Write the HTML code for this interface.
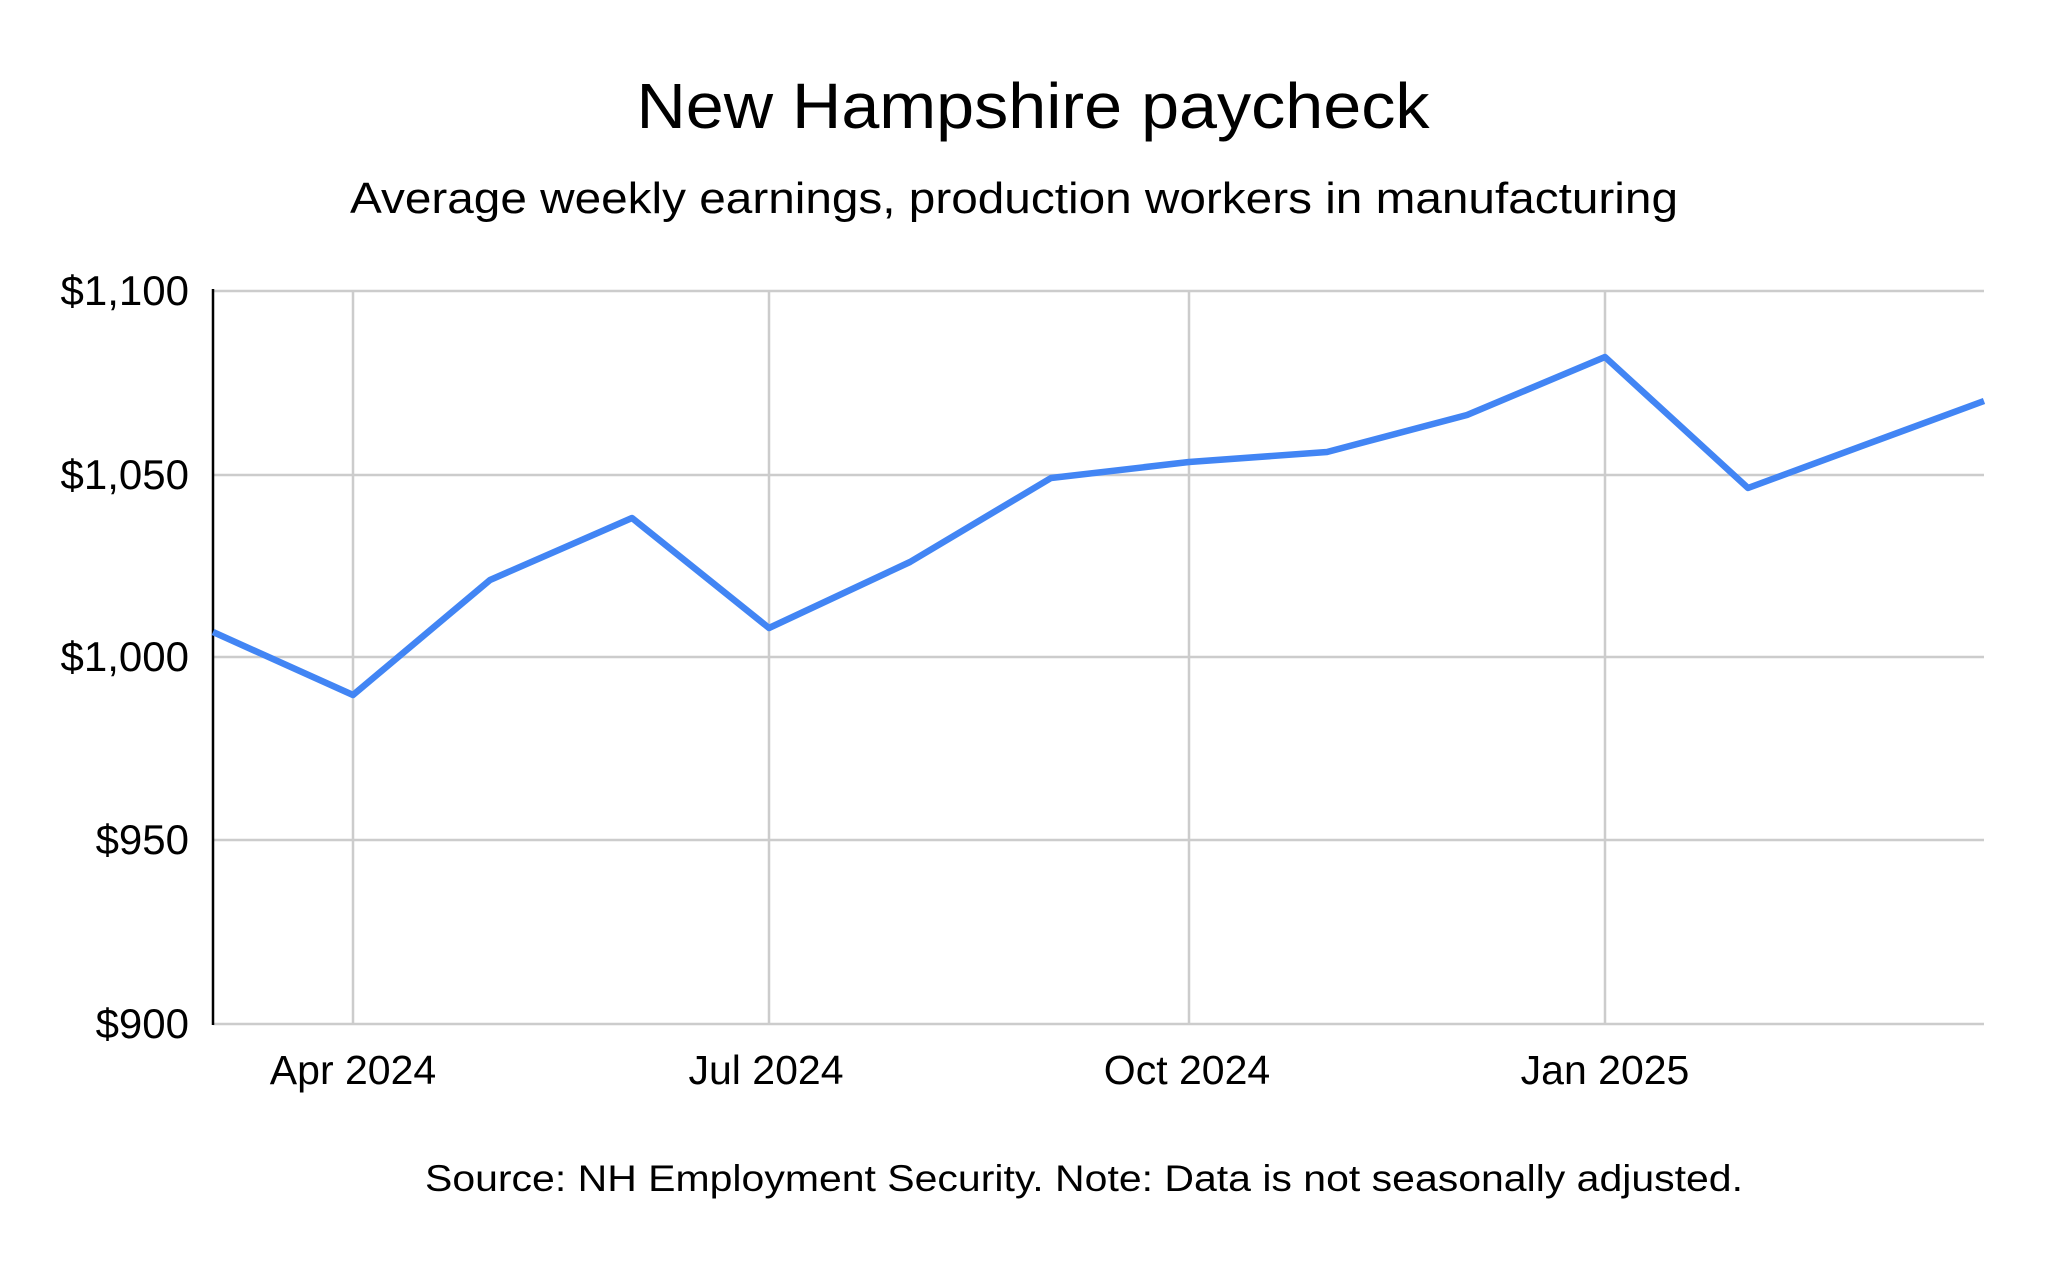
<!DOCTYPE html>
<html><head><meta charset="utf-8"><style>
html,body{margin:0;padding:0;background:#fff;}
svg{display:block;}
text{font-family:"Liberation Sans",Arial,sans-serif;fill:#000;}
</style></head><body>
<svg width="2048" height="1266" viewBox="0 0 2048 1266" xmlns="http://www.w3.org/2000/svg">
<rect width="2048" height="1266" fill="#fff"/>
<text x="1033" y="128" font-size="64" text-anchor="middle" textLength="793" lengthAdjust="spacingAndGlyphs">New Hampshire paycheck</text>
<text x="1014" y="213" font-size="44" text-anchor="middle" textLength="1328" lengthAdjust="spacingAndGlyphs">Average weekly earnings, production workers in manufacturing</text>
<g stroke="#cccccc" stroke-width="2.5">
<line x1="213" y1="291" x2="1984" y2="291"/>
<line x1="213" y1="475" x2="1984" y2="475"/>
<line x1="213" y1="657" x2="1984" y2="657"/>
<line x1="213" y1="840" x2="1984" y2="840"/>
<line x1="213" y1="1024" x2="1984" y2="1024"/>
<line x1="353" y1="291" x2="353" y2="1024"/>
<line x1="769" y1="291" x2="769" y2="1024"/>
<line x1="1189" y1="291" x2="1189" y2="1024"/>
<line x1="1605" y1="291" x2="1605" y2="1024"/>
</g>
<line x1="213" y1="289" x2="213" y2="1025" stroke="#000" stroke-width="2.5"/>
<g font-size="42" text-anchor="end">
<text x="189" y="305">$1,100</text>
<text x="189" y="489">$1,050</text>
<text x="189" y="671">$1,000</text>
<text x="189" y="854">$950</text>
<text x="189" y="1038">$900</text>
</g>
<g font-size="41" text-anchor="middle">
<text x="353" y="1084">Apr 2024</text>
<text x="766" y="1084">Jul 2024</text>
<text x="1187" y="1084">Oct 2024</text>
<text x="1605" y="1084">Jan 2025</text>
</g>
<polyline fill="none" stroke="#4285f4" stroke-width="6.5" stroke-linejoin="round"
points="213,632 353,695 490,580 632,518 769,628 910,562 1051,478 1189,462 1327,452 1467,415 1605,357 1748,488 1984,401"/>
<text x="1084" y="1191" font-size="37" text-anchor="middle" textLength="1318" lengthAdjust="spacingAndGlyphs">Source: NH Employment Security. Note: Data is not seasonally adjusted.</text>
</svg>
</body></html>
